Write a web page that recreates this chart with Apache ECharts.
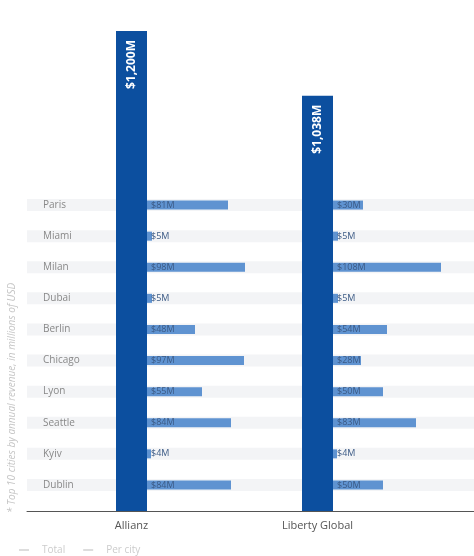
<!DOCTYPE html>
<html>
<head>
    <meta charset="UTF-8">
    <title>Chart</title>
    <style>
        body { margin: 0; background: #fff; }
    </style>
</head>
<body>
    <div id="main" style="width: 474px; height: 556px;"></div>
    <script src="https://cdn.jsdelivr.net/npm/echarts@6/dist/echarts.min.js"></script>
    <script type="text/javascript">
        // data
        var companies = ['Allianz', 'Liberty Global'];
        var totals = [1200, 1038];           // $M
        var cities = ['Paris', 'Miami', 'Milan', 'Dubai', 'Berlin', 'Chicago', 'Lyon', 'Seattle', 'Kyiv', 'Dublin'];
        var leftCity = [81, 5, 98, 5, 48, 97, 55, 84, 4, 84];
        var rightCity = [30, 5, 108, 5, 54, 28, 50, 83, 4, 50];

        var font = '"Open Sans", sans-serif';
        var rowTop = 189.5, rowBottom = 55.5;

        var myChart = echarts.init(document.getElementById('main'));

        function cityLabel(p) { return '$' + p.value + 'M'; }

        myChart.setOption({
            animation: false,
            textStyle: { fontFamily: font },
            grid: [
                { left: 38.5, right: 63.5, top: 31, bottom: 45 },      // big bars
                { left: 27, right: 0, top: rowTop, bottom: rowBottom }, // row bands
                { left: 147, width: 120, top: rowTop, bottom: rowBottom },
                { left: 333, width: 120, top: rowTop, bottom: rowBottom }
            ],
            xAxis: [
                {
                    gridIndex: 0, type: 'category', data: companies,
                    axisLine: { show: false }, axisTick: { show: false },
                    axisLabel: { color: '#555', fontSize: 11, margin: 9 }
                },
                {
                    gridIndex: 1, type: 'value', min: 0, max: 1, offset: 11,
                    axisLine: { show: true, lineStyle: { color: '#555' } },
                    axisTick: { show: false }, axisLabel: { show: false }, splitLine: { show: false }
                },
                { gridIndex: 2, type: 'value', min: 0, max: 120, show: false },
                { gridIndex: 3, type: 'value', min: 0, max: 120, show: false }
            ],
            yAxis: [
                { gridIndex: 0, type: 'value', min: 0, max: 1200, show: false },
                {
                    gridIndex: 1, type: 'category', data: cities, inverse: true, z: 5,
                    axisLine: { show: false }, axisTick: { show: false },
                    axisLabel: { inside: true, margin: 16, color: '#888', fontSize: 10 }
                },
                { gridIndex: 2, type: 'category', data: cities, inverse: true, show: false },
                { gridIndex: 3, type: 'category', data: cities, inverse: true, show: false }
            ],
            legend: {
                left: 14, top: 540, itemWidth: 10, itemHeight: 2, itemGap: 18,
                icon: 'rect',
                textStyle: { color: '#ccc', fontSize: 10, padding: [0, 0, 0, 8] },
                data: [
                    { name: 'Total', itemStyle: { color: '#ddd' } },
                    { name: 'Per city', itemStyle: { color: '#ddd' } }
                ]
            },
            graphic: [{
                type: 'text', x: 12, y: 513, rotation: Math.PI / 2,
                style: {
                    text: '* Top 10 cities by annual revenue, in millions of USD',
                    fill: '#c4c4c4', font: 'italic 10px ' + font,
                    textAlign: 'left', textVerticalAlign: 'middle'
                }
            }],
            series: [
                {
                    name: 'band', type: 'bar', xAxisIndex: 1, yAxisIndex: 1, z: 1, silent: true,
                    barWidth: 12,
                    itemStyle: { color: '#f3f4f6' },
                    data: cities.map(function () { return 1; })
                },
                {
                    name: 'Total', type: 'bar', xAxisIndex: 0, yAxisIndex: 0, z: 2,
                    barWidth: 31,
                    itemStyle: { color: '#0c4f9f' },
                    label: {
                        show: true, position: 'insideTop', distance: 9, rotate: 90,
                        align: 'right', verticalAlign: 'middle',
                        color: '#fff', fontSize: 12, fontWeight: 'bold',
                        formatter: function (p) { return '$' + p.value.toLocaleString('en-US') + 'M'; }
                    },
                    data: totals
                },
                {
                    name: 'Per city', type: 'bar', xAxisIndex: 2, yAxisIndex: 2, z: 3,
                    barWidth: 9,
                    itemStyle: { color: '#5f93d1' },
                    label: { show: true, position: 'insideLeft', distance: 4, color: '#3b5a85', fontSize: 9, formatter: cityLabel },
                    data: leftCity
                },
                {
                    name: 'Per city', type: 'bar', xAxisIndex: 3, yAxisIndex: 3, z: 3,
                    barWidth: 9,
                    itemStyle: { color: '#5f93d1' },
                    label: { show: true, position: 'insideLeft', distance: 4, color: '#3b5a85', fontSize: 9, formatter: cityLabel },
                    data: rightCity
                }
            ]
        });
    </script>
</body>
</html>
